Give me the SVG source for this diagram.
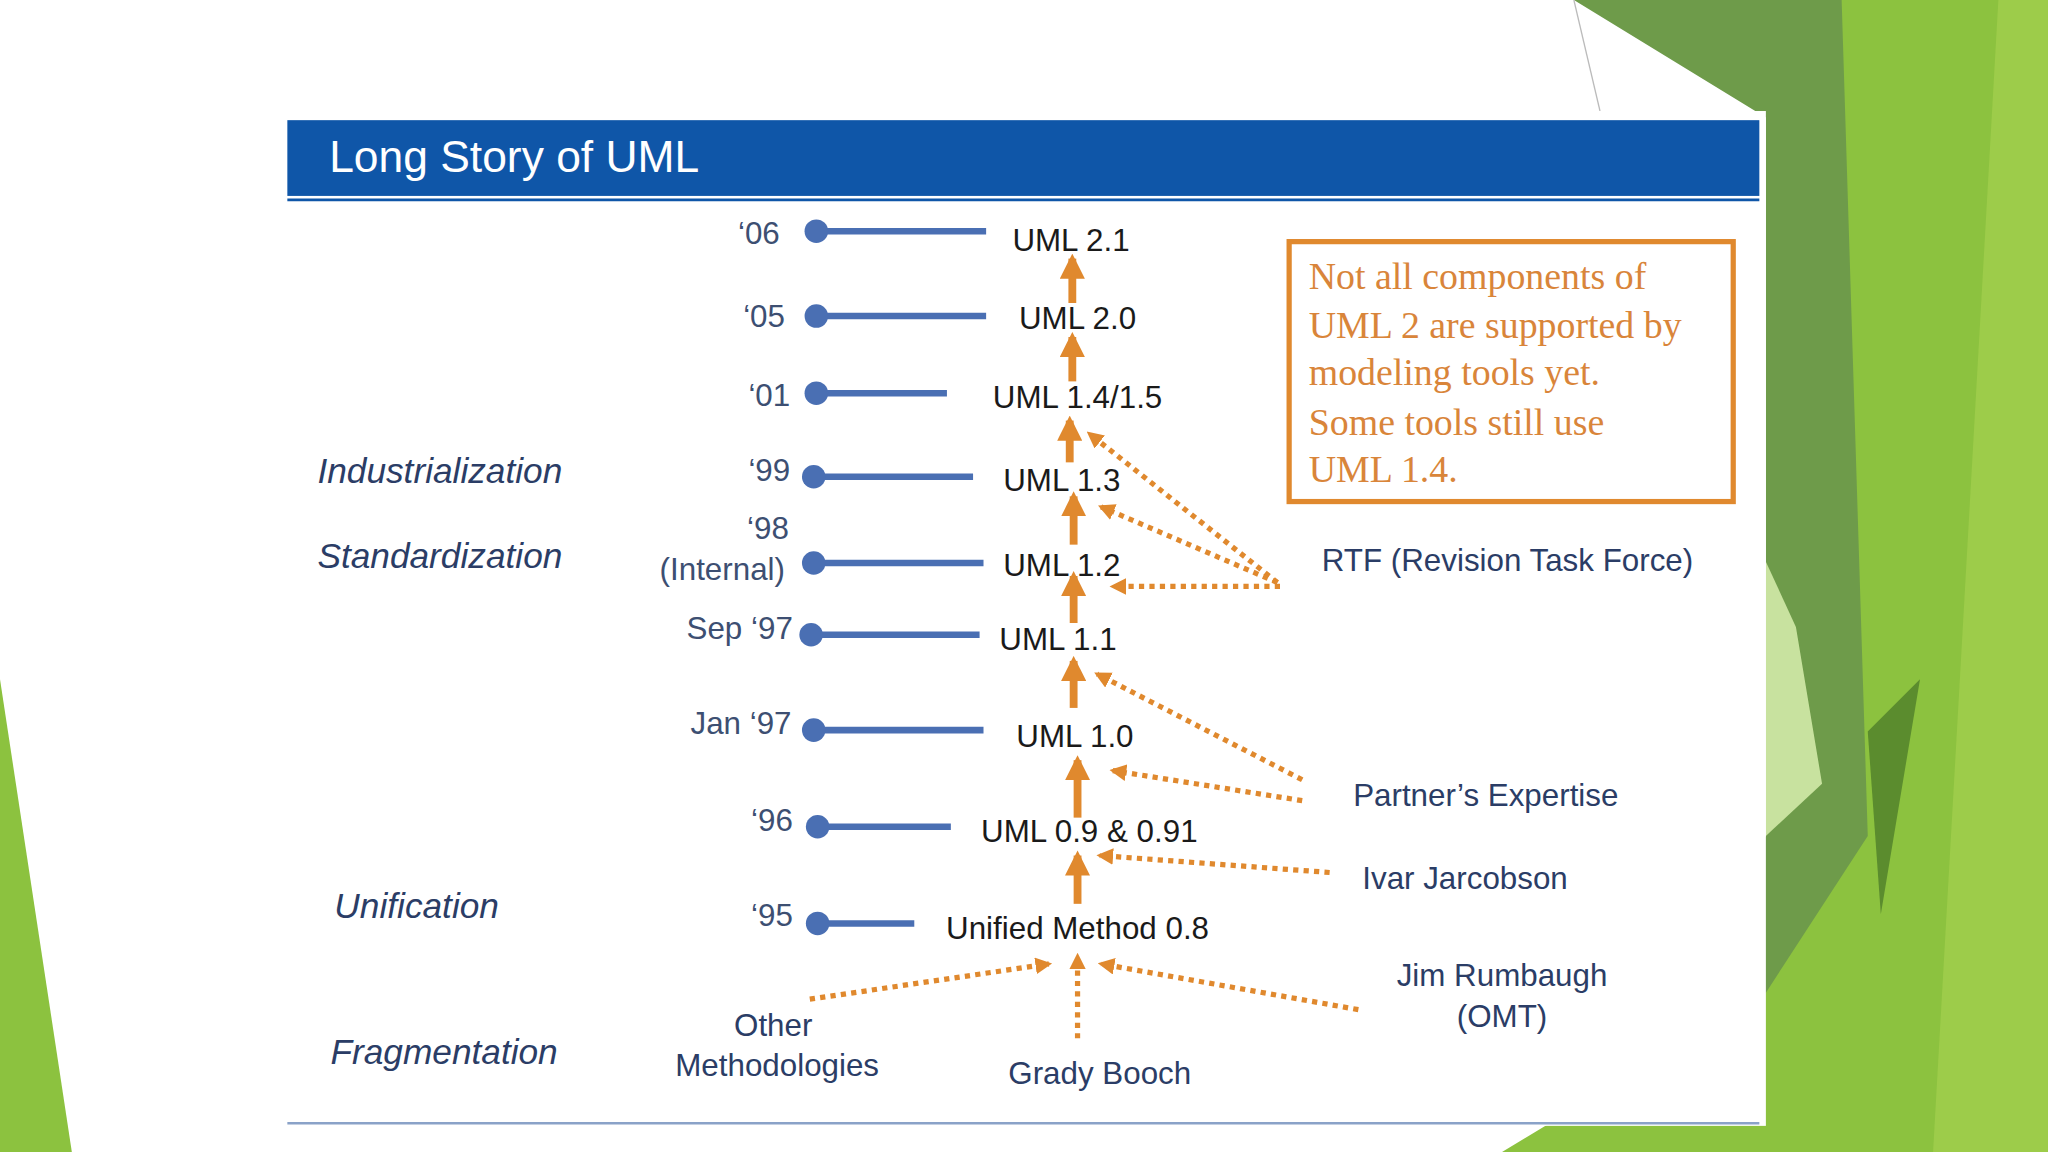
<svg xmlns="http://www.w3.org/2000/svg" width="2048" height="1152" viewBox="0 0 2048 1152">
<defs>
<marker id="ah" viewBox="0 0 10 10" refX="8" refY="5" markerWidth="3.2" markerHeight="3.2" orient="auto-start-reverse"><path d="M0,0L10,5L0,10z" fill="#e0892e"/></marker>
<style>
.t{font-family:"Liberation Sans",Arial,sans-serif;font-size:24px;fill:#1a1a1a}
.y{font-family:"Liberation Sans",Arial,sans-serif;font-size:24px;fill:#3d4f72;text-anchor:end}
.r{font-family:"Liberation Sans",Arial,sans-serif;font-size:24px;fill:#2b3d66}
.i{font-family:"Liberation Sans",Arial,sans-serif;font-size:27px;font-style:italic;fill:#2b3d66}
.s{font-family:"Liberation Serif","Times New Roman",serif;font-size:29px;fill:#d9853a}
.tl{stroke:#4a6fb3;stroke-width:5}
.dot{fill:#4a6fb3}
.a{stroke:#e0892e;stroke-width:6;fill:none;marker-end:url(#ah)}
.d{stroke:#e0892e;stroke-width:4;stroke-dasharray:4 4;fill:none;marker-end:url(#ah)}
</style>
</defs>
<rect width="2048" height="1152" fill="#fff"/>
<g transform="scale(1.306122)">
<g id="bg">
<polygon points="1205,0 1568,0 1568,882 1200,882 1352,640 1352,90" fill="#6e9b4a"/>
<polygon points="1410,0 1568,0 1568,882 1150,882 1352,760 1430,640" fill="#8cc23f"/>
<polygon points="1530,0 1568,0 1568,882 1480,882" fill="#9dcc4a"/>
<polygon points="1352,430 1375,480 1395,600 1352,640" fill="#c8e29f"/>
<polygon points="1430,560 1470,520 1440,700" fill="#5b8c2e"/>
<polygon points="0,520 55,882 0,882" fill="#8cc23f"/>
<line x1="1205" y1="0" x2="1225" y2="85" stroke="#bbb" stroke-width="1"/>
<rect x="220" y="85" width="1132" height="777" fill="#fff"/>
</g>
<g id="header">
<rect x="220" y="92" width="1127" height="58" fill="#0f56a8"/>
<line x1="220" y1="153" x2="1347" y2="153" stroke="#0f56a8" stroke-width="2"/>
<line x1="220" y1="860" x2="1347" y2="860" stroke="#8aa2c8" stroke-width="2"/>
<text x="252" y="132" font-family="Liberation Sans,Arial,sans-serif" font-size="34" fill="#fff">Long Story of UML</text>
</g>
<g id="timeline">
<line class="tl" x1="625" y1="177" x2="755" y2="177"/><circle class="dot" cx="625" cy="177" r="9"/>
<line class="tl" x1="625" y1="242" x2="755" y2="242"/><circle class="dot" cx="625" cy="242" r="9"/>
<line class="tl" x1="625" y1="301" x2="725" y2="301"/><circle class="dot" cx="625" cy="301" r="9"/>
<line class="tl" x1="623" y1="365" x2="745" y2="365"/><circle class="dot" cx="623" cy="365" r="9"/>
<line class="tl" x1="623" y1="431" x2="753" y2="431"/><circle class="dot" cx="623" cy="431" r="9"/>
<line class="tl" x1="621" y1="486" x2="750" y2="486"/><circle class="dot" cx="621" cy="486" r="9"/>
<line class="tl" x1="623" y1="559" x2="753" y2="559"/><circle class="dot" cx="623" cy="559" r="9"/>
<line class="tl" x1="626" y1="633" x2="728" y2="633"/><circle class="dot" cx="626" cy="633" r="9"/>
<line class="tl" x1="626" y1="707" x2="700" y2="707"/><circle class="dot" cx="626" cy="707" r="9"/>
<text class="y" x="597" y="187">‘06</text>
<text class="y" x="601" y="250">‘05</text>
<text class="y" x="605" y="311">‘01</text>
<text class="y" x="605" y="368">‘99</text>
<text class="y" x="604" y="413">‘98</text>
<text class="y" x="601" y="444">(Internal)</text>
<text class="y" x="607" y="489">Sep ‘97</text>
<text class="y" x="606" y="562">Jan ‘97</text>
<text class="y" x="607" y="636">‘96</text>
<text class="y" x="607" y="709">‘95</text>
</g>
<g id="versions" text-anchor="middle">
<text class="t" x="820" y="192">UML 2.1</text>
<text class="t" x="825" y="252">UML 2.0</text>
<text class="t" x="825" y="312">UML 1.4/1.5</text>
<text class="t" x="813" y="376">UML 1.3</text>
<text class="t" x="813" y="441">UML 1.2</text>
<text class="t" x="810" y="498">UML 1.1</text>
<text class="t" x="823" y="572">UML 1.0</text>
<text class="t" x="834" y="645">UML 0.9 &amp; 0.91</text>
<text class="t" x="825" y="719">Unified Method 0.8</text>
</g>
<g id="phases">
<text class="i" x="243" y="370">Industrialization</text>
<text class="i" x="243" y="435">Standardization</text>
<text class="i" x="256" y="703">Unification</text>
<text class="i" x="253" y="815">Fragmentation</text>
</g>
<g id="sources">
<text class="r" x="1012" y="437">RTF (Revision Task Force)</text>
<text class="r" x="1036" y="617">Partner’s Expertise</text>
<text class="r" x="1043" y="681">Ivar Jarcobson</text>
<text class="r" x="1150" y="755" text-anchor="middle">Jim Rumbaugh</text>
<text class="r" x="1150" y="786" text-anchor="middle">(OMT)</text>
<text class="r" x="592" y="793" text-anchor="middle">Other</text>
<text class="r" x="595" y="824" text-anchor="middle">Methodologies</text>
<text class="r" x="842" y="830" text-anchor="middle">Grady Booch</text>
</g>
<g id="note">
<rect x="987" y="185" width="340" height="199" fill="#fff" stroke="#e0892e" stroke-width="4"/>
<text class="s" x="1002" y="221">Not all components of</text>
<text class="s" x="1002" y="259">UML 2 are supported by</text>
<text class="s" x="1002" y="295">modeling tools yet.</text>
<text class="s" x="1002" y="333">Some tools still use</text>
<text class="s" x="1002" y="369">UML 1.4.</text>
</g>
<g id="connectors">
<line class="a" x1="821" y1="232" x2="821" y2="198"/>
<line class="a" x1="821" y1="292" x2="821" y2="258"/>
<line class="a" x1="819" y1="354" x2="819" y2="322"/>
<line class="a" x1="822" y1="417" x2="822" y2="380"/>
<line class="a" x1="822" y1="477" x2="822" y2="441"/>
<line class="a" x1="822" y1="542" x2="822" y2="506"/>
<line class="a" x1="825" y1="626" x2="825" y2="582"/>
<line class="a" x1="825" y1="692" x2="825" y2="655"/>
<line class="d" x1="825" y1="795" x2="825" y2="732"/>
<line class="d" x1="978" y1="446" x2="834" y2="332"/>
<line class="d" x1="978" y1="446" x2="843" y2="388"/>
<line class="d" x1="980" y1="449" x2="852" y2="449"/>
<line class="d" x1="997" y1="597" x2="840" y2="516"/>
<line class="d" x1="997" y1="613" x2="852" y2="590"/>
<line class="d" x1="1018" y1="668" x2="842" y2="655"/>
<line class="d" x1="1040" y1="773" x2="843" y2="738"/>
<line class="d" x1="620" y1="765" x2="803" y2="738"/>
</g>
</g>
</svg>
